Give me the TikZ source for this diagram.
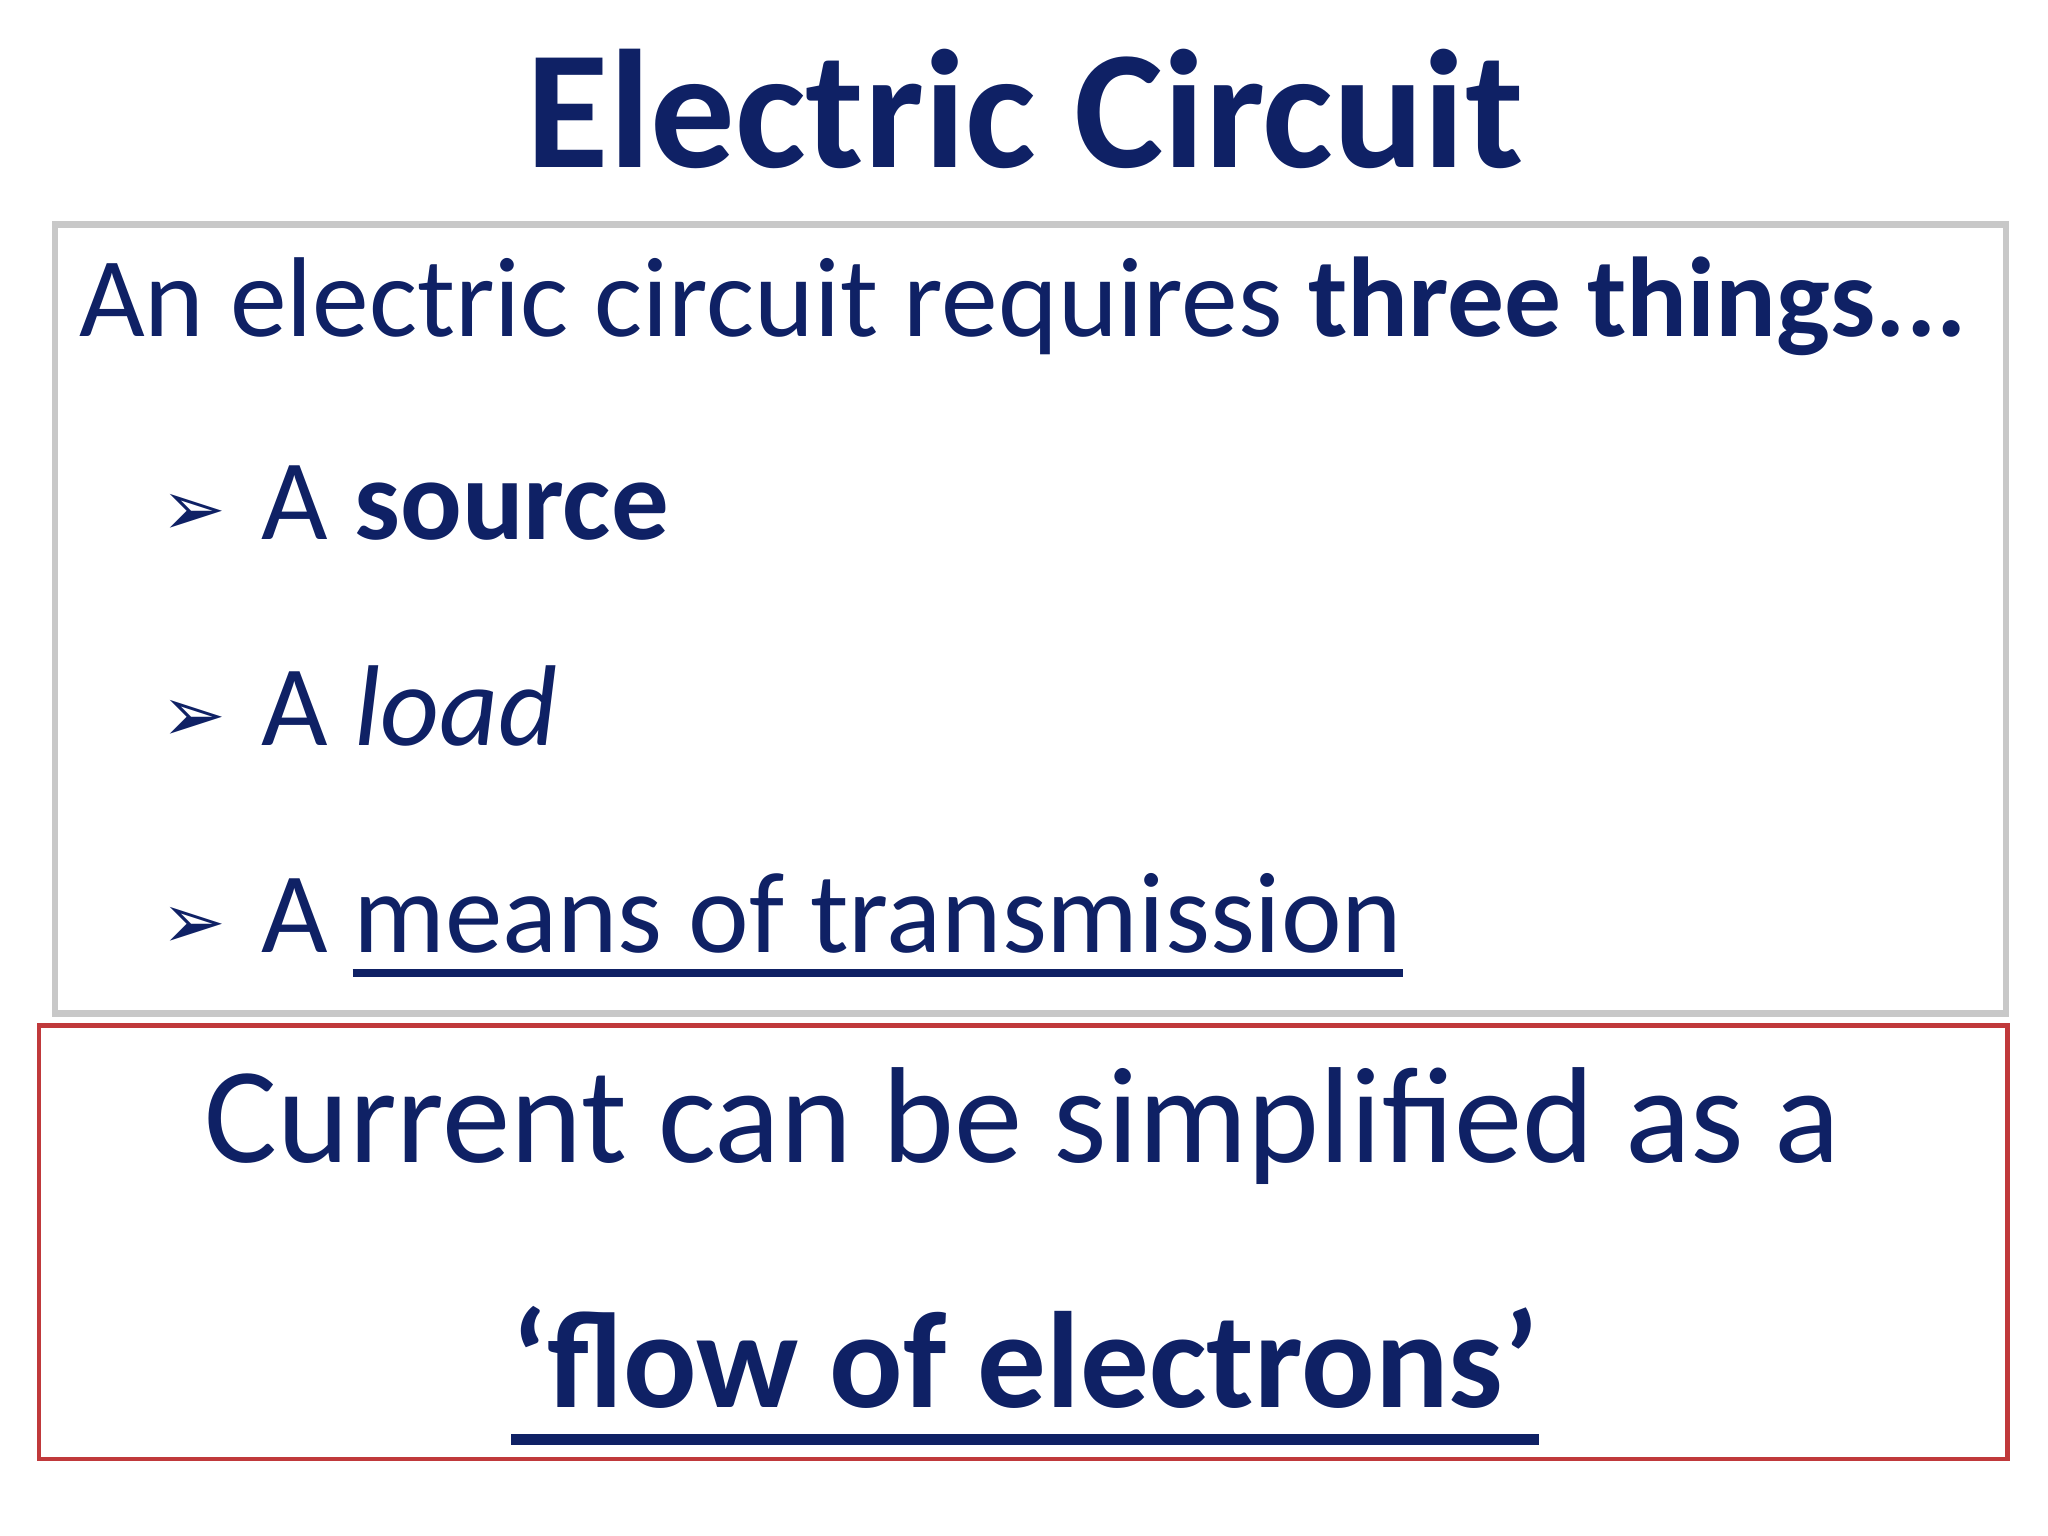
\documentclass[tikz,border=0pt]{standalone}
\usepackage{fontspec}
\setmainfont{Carlito}
\newfontfamily\symfont{DejaVu Sans}
\definecolor{navy}{HTML}{0F2165}
\definecolor{boxgray}{HTML}{C8C8C8}
\definecolor{boxred}{HTML}{C0393B}
\begin{document}
\begin{tikzpicture}[x=0.013061cm,y=-0.013061cm,
  txt/.style={inner sep=0pt,text=navy,anchor=base west},
  bul/.style={inner sep=0pt,text=navy,anchor=base west,font=\symfont\fontsize{22pt}{24pt}\selectfont},
  uline/.style={navy,line width=2.2pt}]
\useasboundingbox (0,0) rectangle (1568,1176);
\node[txt,anchor=base,font=\bfseries\fontsize{48pt}{54pt}\selectfont] (title) at (785,128) {Electric Circuit};
\draw[boxgray,line width=1.8pt] (42,172) rectangle (1536,776);
\node[txt,font=\fontsize{32.3pt}{38pt}\selectfont] (intro) at (60,258) {An electric circuit requires \textbf{three things...}};
\node[bul] (b1) at (123,410) {➢};
\node[bul] (b2) at (123,568) {➢};
\node[bul] (b3) at (123,726) {➢};
\node[txt,font=\fontsize{32.7pt}{38pt}\selectfont] (s1) at (200,413) {A \textbf{source}};
\node[txt,font=\fontsize{32.7pt}{38pt}\selectfont] (s2) at (200,571) {A \textit{load}};
\node[txt,font=\fontsize{32.7pt}{38pt}\selectfont] (s3a) at (200,729) {A};
\node[txt,font=\fontsize{32.7pt}{38pt}\selectfont] (s3) at (270,729) {means of transmission};
\draw[uline] ([yshift=-6pt]s3.base west) -- ([yshift=-6pt]s3.base east);
\draw[boxred,line width=1.3pt] (30,785) rectangle (1537,1117);
\node[txt,anchor=base,font=\fontsize{38.9pt}{44pt}\selectfont] (cur) at (783,890) {Current can be simplified as a};
\node[txt,anchor=base,font=\bfseries\fontsize{39pt}{44pt}\selectfont] (flow) at (785,1078) {‘flow of electrons’};
\draw[uline,line width=3pt] ([yshift=-9pt]flow.base west) -- ([yshift=-9pt]flow.base east);
\end{tikzpicture}
\end{document}
